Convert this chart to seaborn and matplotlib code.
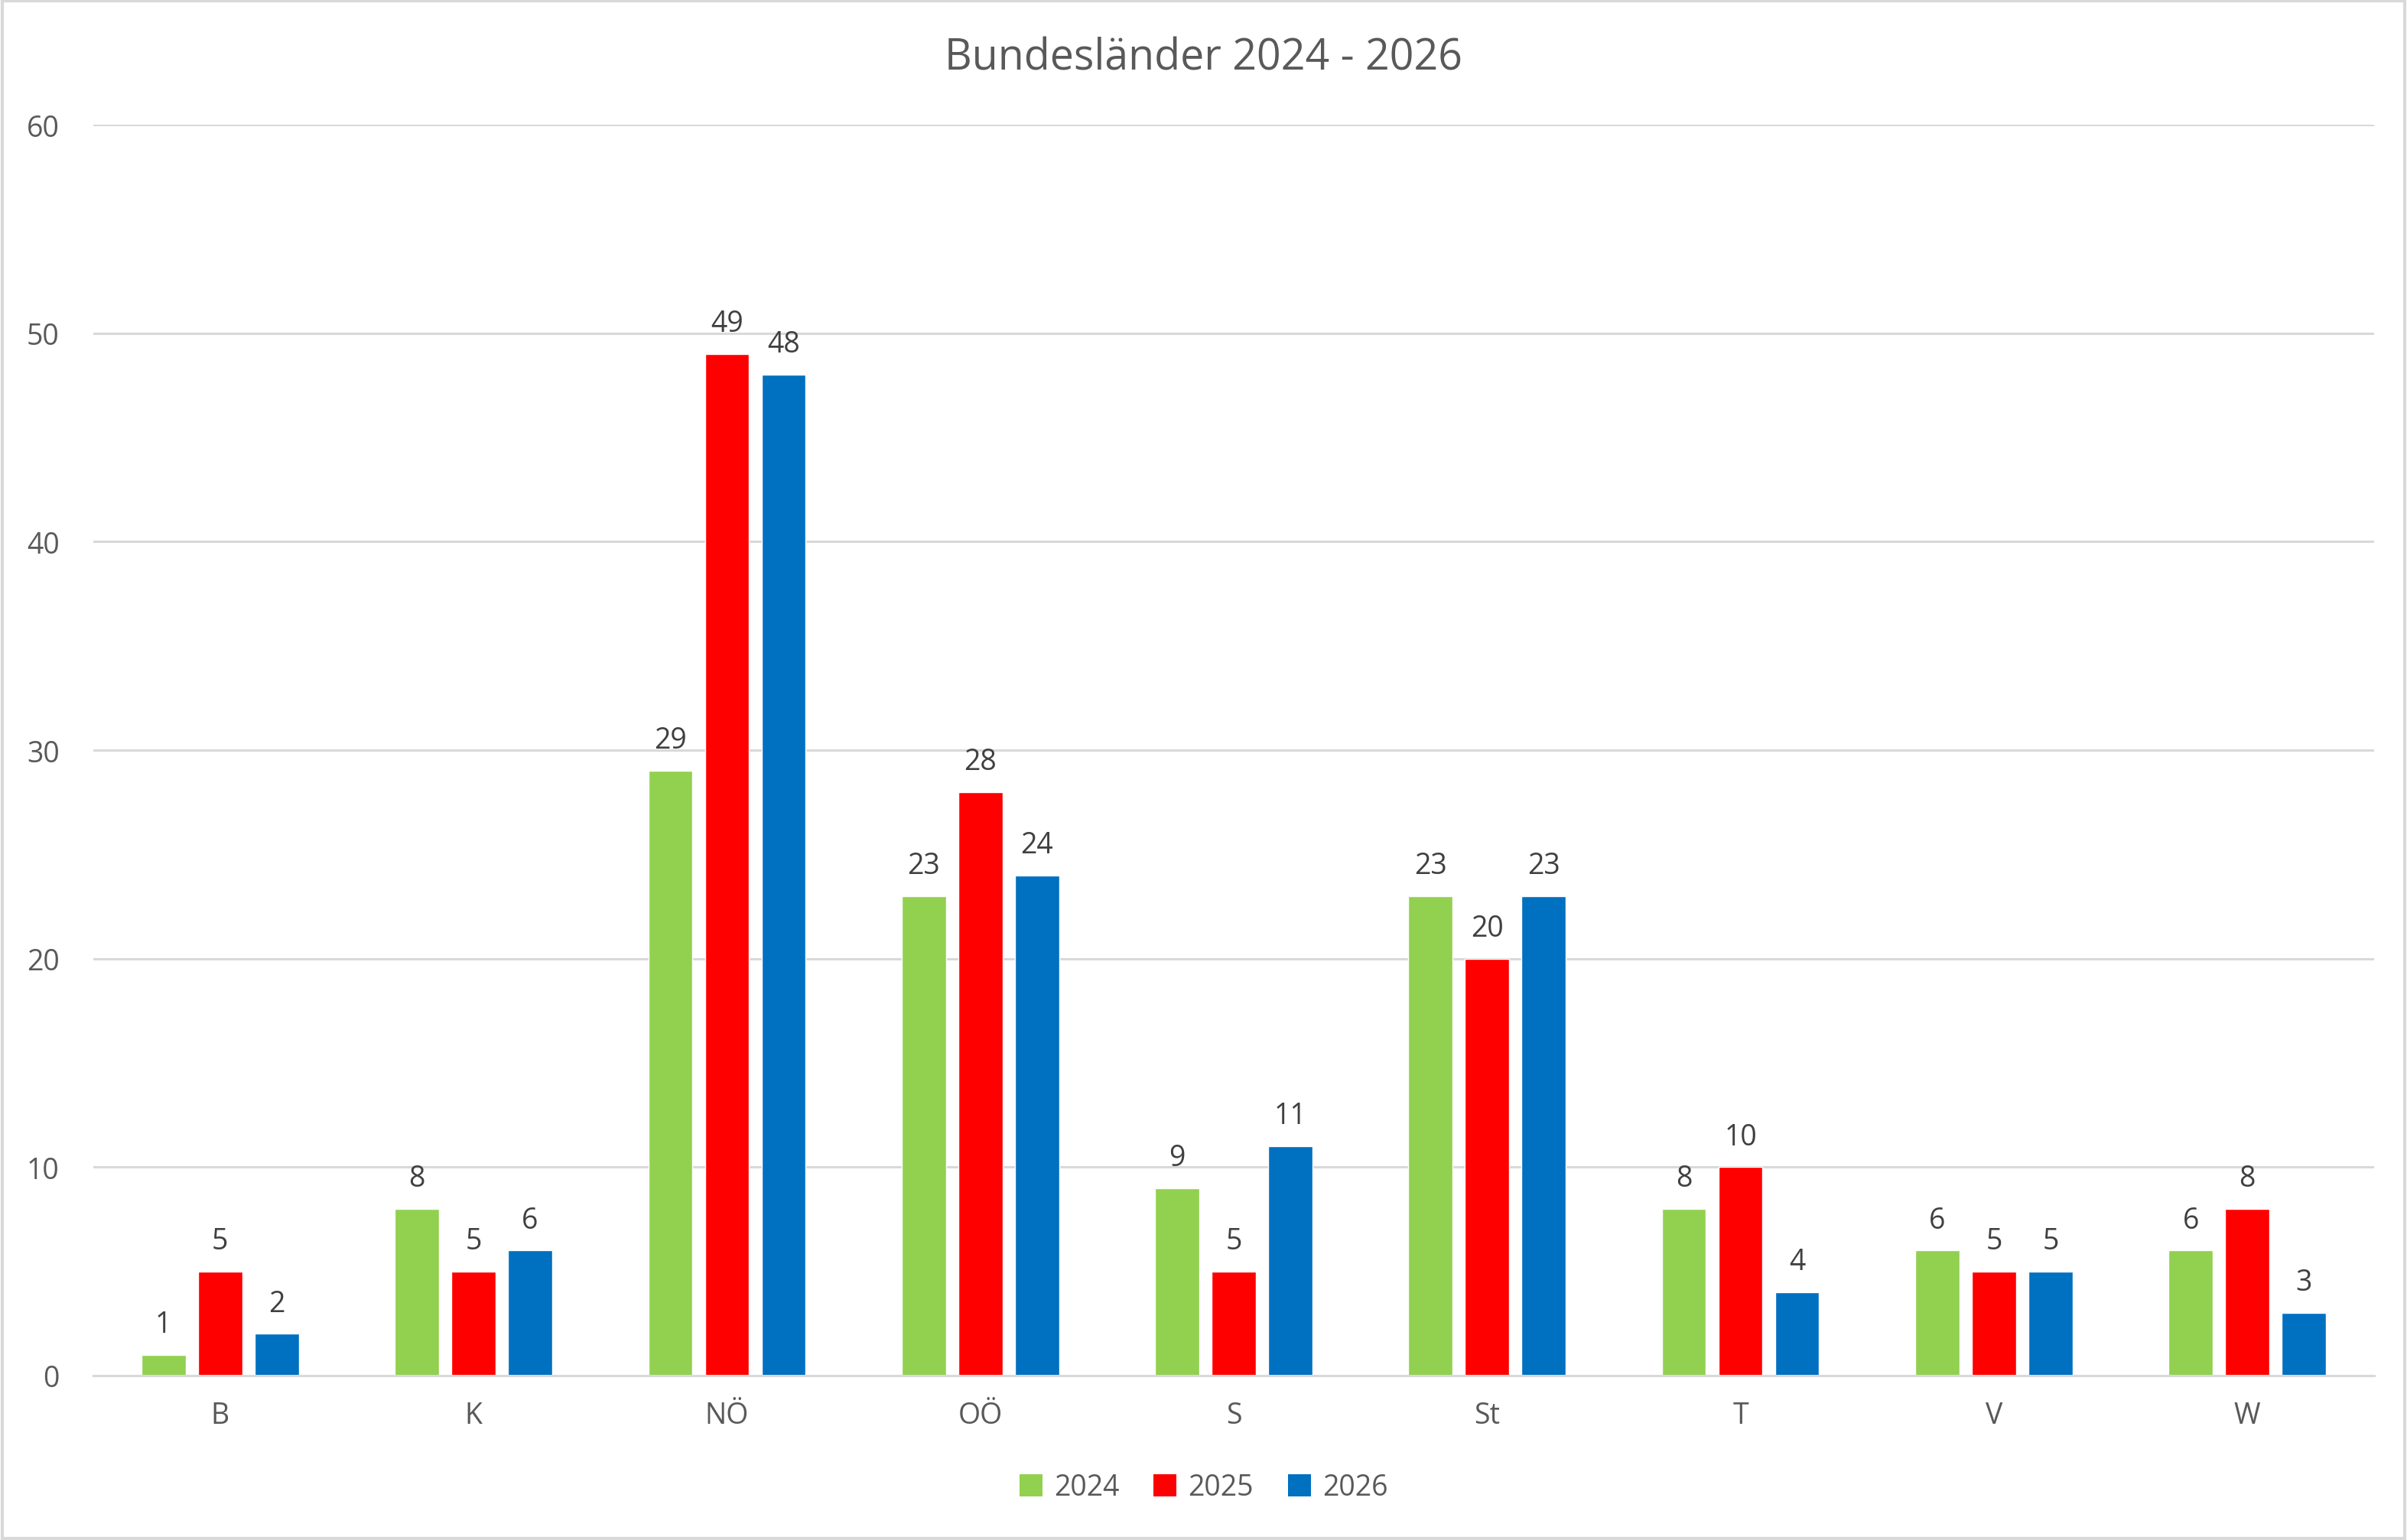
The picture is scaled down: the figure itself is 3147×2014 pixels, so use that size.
import matplotlib
matplotlib.use("Agg")
import matplotlib.pyplot as plt
import pandas as pd
import seaborn as sns
from matplotlib.patches import Patch, Rectangle

categories = ["B", "K", "NÖ", "OÖ", "S", "St", "T", "V", "W"]
years = ["2024", "2025", "2026"]
values_2024 = [1, 8, 29, 23, 9, 23, 8, 6, 6]
values_2025 = [5, 5, 49, 28, 5, 20, 10, 5, 8]
values_2026 = [2, 6, 48, 24, 11, 23, 4, 5, 3]
colors = ["#92d050", "#ff0000", "#0070c0"]

df = pd.DataFrame({
    "land": categories * 3,
    "year": [y for y in years for _ in categories],
    "value": values_2024 + values_2025 + values_2026,
})

sns.set_style("white")
plt.rcParams["font.family"] = ["Open Sans", "DejaVu Sans"]

fig = plt.figure(figsize=(31.47, 20.15), dpi=100)
ax = fig.add_axes([0.0388, 0.1067, 0.9475, 0.8119])

sns.barplot(
    data=df, x="land", y="value", hue="year", hue_order=years,
    palette=colors, width=0.67, gap=0.22, saturation=1,
    legend=False, ax=ax,
)

for container in ax.containers:
    ax.bar_label(container, padding=15, fontsize=27, color="#404040")

ax.set_ylim(0, 60)
ax.set_yticks(range(0, 61, 10))
ax.set_xlim(-0.5, len(categories) - 0.5)
ax.grid(axis="y", color="#d9d9d9", linewidth=2.2)
ax.set_axisbelow(True)
for side in ["top", "right", "left"]:
    ax.spines[side].set_visible(False)
ax.spines["bottom"].set_color("#d9d9d9")
ax.spines["bottom"].set_linewidth(2.2)
ax.tick_params(axis="both", length=0, labelsize=27, labelcolor="#595959")
ax.tick_params(axis="x", pad=24)
ax.tick_params(axis="y", pad=32)
ax.set_xlabel("")
ax.set_ylabel("")

fig.text(0.5, 0.962, "Bundesländer 2024 - 2026", ha="center", va="center",
         fontsize=40, color="#595959")

handles = [Patch(facecolor=c, edgecolor="none") for c in colors]
fig.legend(handles, years, loc="center", bbox_to_anchor=(0.5, 0.034),
           ncol=3, frameon=False, fontsize=27, labelcolor="#595959",
           handlelength=0.8, handleheight=0.8, handletextpad=0.4,
           columnspacing=1.2)

fig.patches.append(Rectangle((0.001, 0.001), 0.998, 0.998, transform=fig.transFigure,
                             fill=False, edgecolor="#d9d9d9", linewidth=3))

fig.savefig("out.png", dpi=100, facecolor="white")
